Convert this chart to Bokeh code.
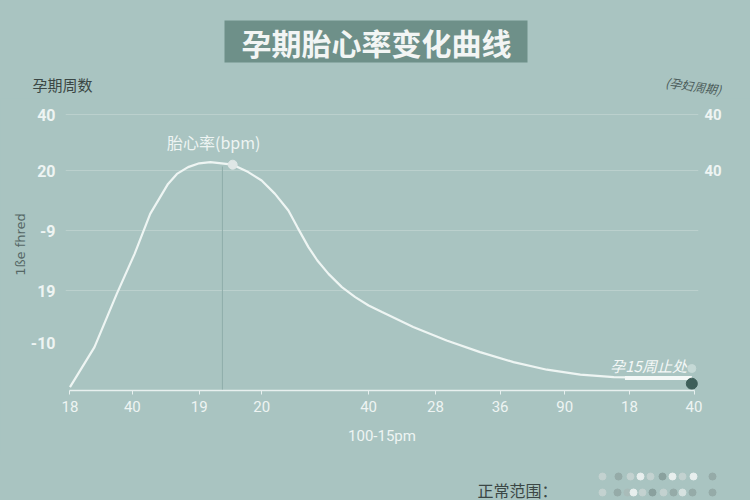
from bokeh.plotting import figure
from bokeh.models import Label, LinearAxis, FixedTicker, Range1d
from bokeh.embed import file_html
from bokeh.resources import INLINE
from bokeh.core.properties import value

BG = "#a9c4c1"
LIGHT = "#eef4f3"
DARK_TXT = "#3b4745"
CJK = "Noto Sans CJK SC"

# ---------------- texts ----------------
title_text = "孕期胎心率变化曲线"
y_title = "孕期周数"
right_title = "(孕妇周期)"
y_axis_label = "1ße fhred"
x_axis_label = "100-15pm"
series_label = "胎心率(bpm)"
end_label = "孕15周止处"
legend_label = "正常范围："

# ---------------- data ----------------
days = [0, 11, 21, 29, 36, 44, 48, 53, 58, 63, 73, 80, 86, 92, 98, 102, 107,
        111, 116, 122, 128, 134, 140, 154, 169, 184, 199, 214, 229, 244, 261, 279]
fhr = [101.7, 121.7, 148.3, 168.3, 188.3, 203.3, 208.3, 211.7, 213.6, 214.2,
       212.9, 209.2, 205.0, 198.3, 190.0, 181.7, 171.7, 165.0, 158.3, 151.7,
       146.7, 142.5, 139.2, 131.7, 125.0, 119.2, 114.2, 110.4, 107.9, 106.7,
       106.4, 106.4]

x_tick_pos = [0, 28, 58, 86, 134, 164, 193, 222, 251, 280]
x_tick_labels = ["18", "40", "19", "20", "40", "28", "36", "90", "18", "40"]
y_tick_pos = [124, 150, 180, 210, 238]
y_tick_labels = ["-10", "19", "-9", "20", "40"]
y_grid_pos = [150, 180, 210, 238]
right_tick_pos = [210, 238]
right_tick_labels = ["40", "40"]

peak_day, peak_fhr = 73, 212.9
marker_day, marker_top = 68.4, 212
end_day, end_fhr, end_light_fhr = 279, 103.4, 111
highlight_start, highlight_end, highlight_fhr = 249, 279, 106.2

legend_row1_x = [602, 618, 630, 640, 650, 662, 672, 682, 693, 712]
legend_row1_c = ["#c3d2d0", "#95aba8", "#c3d2d0", "#e8efee", "#c3d2d0",
                 "#8aa19e", "#e8efee", "#c3d2d0", "#e8efee", "#95aba8"]
legend_row2_x = [602, 617, 627, 633, 642, 652, 663, 673, 682, 692, 712]
legend_row2_c = ["#c3d2d0", "#95aba8", "#a9bcb9", "#e8efee", "#c3d2d0",
                 "#8aa19e", "#c3d2d0", "#95aba8", "#d6e2e0", "#95aba8", "#95aba8"]


def strip(h):
    f = figure(width=750, height=h, x_range=Range1d(0, 750), y_range=Range1d(0, h),
               output_backend="svg", toolbar_location=None,
               x_axis_location=None, y_axis_location=None,
               background_fill_color=BG, border_fill_color=BG, min_border=0)
    f.outline_line_color = None
    f.grid.visible = False
    return f


# ---------------- header strip ----------------
p0 = strip(98)
p0.quad(left=[224], right=[527], top=[78], bottom=[36], fill_color="#6e9089",
        line_color=None)
p0.text(x=[376], y=[57], text=[title_text], text_font=value(CJK),
        text_font_size="30px", text_font_style="bold", text_color="#f2f5f4",
        text_align="center", text_baseline="middle")
p0.text(x=[32], y=[14], text=[y_title], text_font=value(CJK),
        text_font_size="15px", text_color=DARK_TXT,
        text_align="left", text_baseline="middle")
p0.text(x=[693], y=[13], text=[right_title], text_font=value(CJK),
        text_font_size="12px", text_font_style="italic", text_color="#4a5a58",
        text_align="center", text_baseline="middle", angle=-0.14)

# ---------------- main figure ----------------
p = figure(width=750, height=356, x_range=Range1d(-2, 282), y_range=Range1d(100, 246),
           output_backend="svg", toolbar_location=None,
           background_fill_color=BG, border_fill_color=BG,
           min_border_left=65, min_border_right=52, min_border_top=0, min_border_bottom=64)
p.outline_line_color = None
p.xgrid.visible = False
p.ygrid.ticker = FixedTicker(ticks=y_grid_pos)
p.ygrid.grid_line_color = "#bbd0cd"
p.ygrid.grid_line_width = 1

yax = p.yaxis[0]
yax.ticker = FixedTicker(ticks=y_tick_pos)
yax.major_label_overrides = dict(zip(y_tick_pos, y_tick_labels))
yax.axis_line_color = None
yax.major_tick_line_color = None
yax.minor_tick_line_color = None
yax.major_label_standoff = 4
yax.major_label_text_font = "Roboto"
yax.major_label_text_font_size = "16px"
yax.major_label_text_font_style = "bold"
yax.major_label_text_color = LIGHT
yax.axis_label = y_axis_label
yax.axis_label_text_font = "DejaVu Sans"
yax.axis_label_text_font_size = "13px"
yax.axis_label_text_font_style = "normal"
yax.axis_label_text_color = "#556765"
yax.axis_label_standoff = 0

xax = p.xaxis[0]
xax.ticker = FixedTicker(ticks=x_tick_pos)
xax.major_label_overrides = dict(zip(x_tick_pos, x_tick_labels))
xax.bounds = (0, 280)
xax.axis_line_color = "#e8f0ef"
xax.axis_line_width = 1.5
xax.major_tick_line_color = "#e8f0ef"
xax.major_tick_in = 0
xax.major_tick_out = 4
xax.minor_tick_line_color = None
xax.major_label_standoff = 6
xax.major_label_text_font = "Roboto"
xax.major_label_text_font_size = "15px"
xax.major_label_text_color = LIGHT
xax.axis_label = x_axis_label
xax.axis_label_text_font = "Roboto"
xax.axis_label_text_font_size = "15px"
xax.axis_label_text_font_style = "normal"
xax.axis_label_text_color = LIGHT
xax.axis_label_standoff = 12

rax = LinearAxis(ticker=FixedTicker(ticks=right_tick_pos),
                 major_label_overrides=dict(zip(right_tick_pos, right_tick_labels)))
rax.axis_line_color = None
rax.major_tick_line_color = None
rax.minor_tick_line_color = None
rax.major_label_standoff = 0
rax.major_label_text_font = "Roboto"
rax.major_label_text_font_size = "15px"
rax.major_label_text_font_style = "bold"
rax.major_label_text_color = LIGHT
p.add_layout(rax, "right")

p.segment(x0=[marker_day], y0=[100], x1=[marker_day], y1=[marker_top],
          line_color="#8fadaa", line_width=1)
p.line(days, fhr, line_color="#eef5f3", line_width=2.2)
p.segment(x0=[highlight_start], y0=[highlight_fhr], x1=[highlight_end], y1=[highlight_fhr],
          line_color="#f4f8f7", line_width=4)
p.scatter([peak_day], [peak_fhr], size=9, color="#dfe7e6")
p.scatter([end_day], [end_light_fhr], size=8, color="#c5d9d6")
p.scatter([end_day], [end_fhr], size=11, color="#3e5f5a")

p.add_layout(Label(x=64.5, y=224.2, text=series_label, text_align="center",
                   text_baseline="middle", text_font=CJK,
                   text_font_size="16px", text_color=LIGHT))
p.add_layout(Label(x=276.8, y=112.5, text=end_label, text_align="right",
                   text_baseline="middle", text_font=CJK,
                   text_font_size="15px", text_font_style="italic", text_color="#f4f8f7"))

# ---------------- legend strip ----------------
p2 = strip(46)
p2.text(x=[477], y=[11], text=[legend_label], text_font=value(CJK),
        text_font_size="16px", text_color=DARK_TXT, text_baseline="middle")
p2.scatter(legend_row1_x, [24] * len(legend_row1_x), size=7, color=legend_row1_c)
p2.scatter(legend_row2_x, [8] * len(legend_row2_x), size=7, color=legend_row2_c)

html = file_html([p0, p, p2], INLINE)
html = html.replace("<head>", "<head><style>html,body{background:#a9c4c1;}</style>", 1)
open("out.html", "w").write(html)
